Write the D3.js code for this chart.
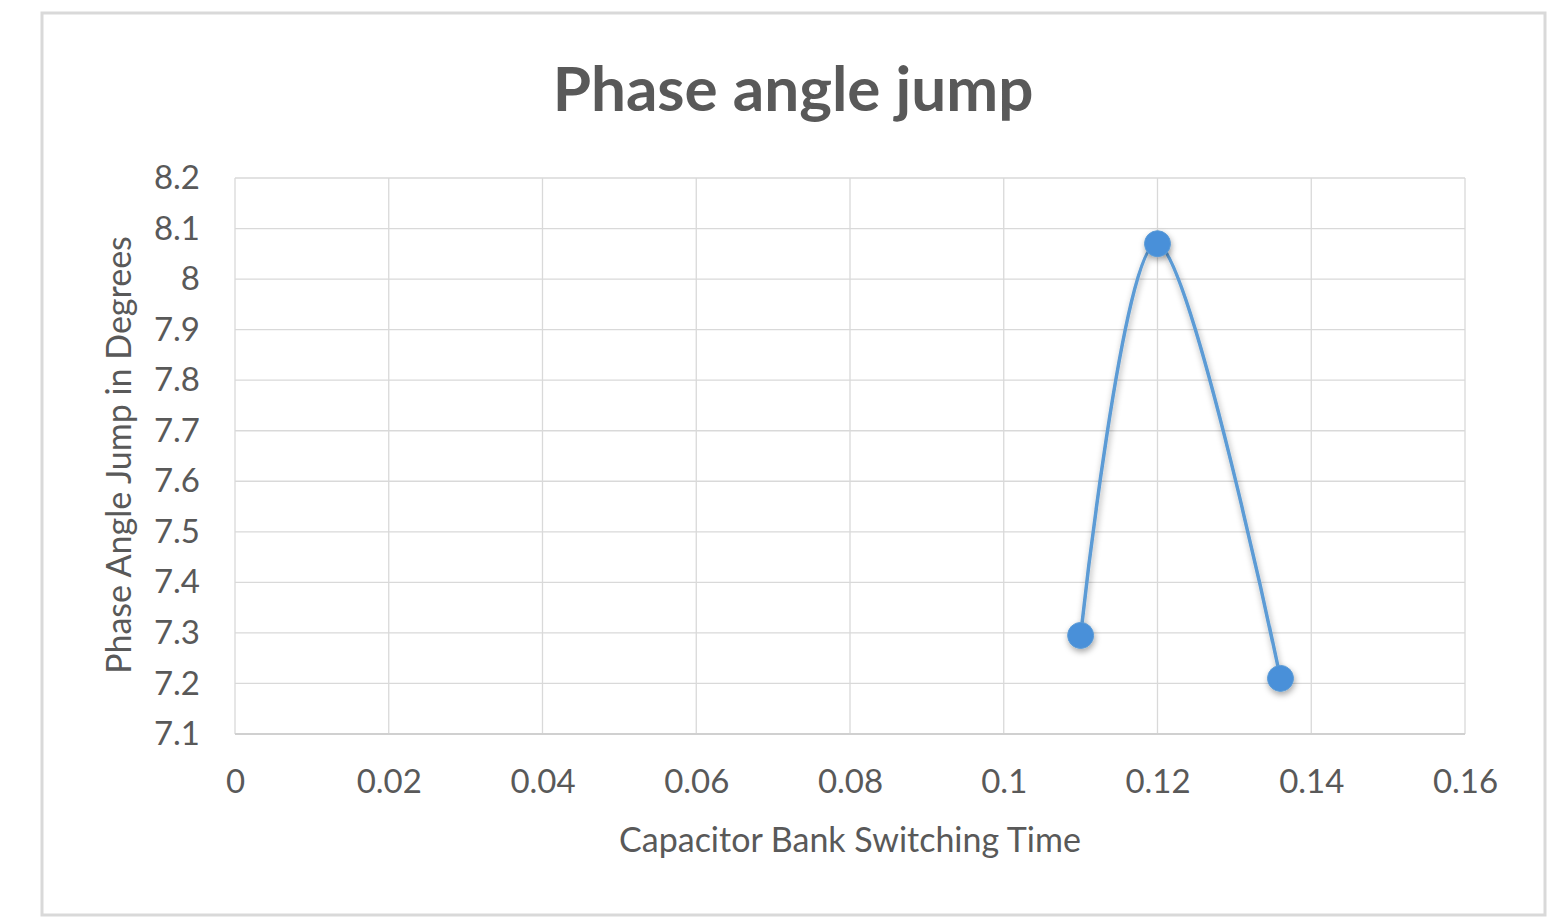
<!DOCTYPE html>
<html><head><meta charset="utf-8">
<script src="https://cdn.jsdelivr.net/npm/d3@7"></script>
<style>body{margin:0;background:#fff;}svg{display:block;}</style>
</head><body>
<svg id="c" width="1556" height="924"></svg>
<script>
const xValues = [0.11, 0.12, 0.136];
const yValues = [7.295, 8.07, 7.21];
const xTicks = [0, 0.02, 0.04, 0.06, 0.08, 0.1, 0.12, 0.14, 0.16];
const yTicks = [7.1, 7.2, 7.3, 7.4, 7.5, 7.6, 7.7, 7.8, 7.9, 8, 8.1, 8.2];
const title = "Phase angle jump";
const xTitle = "Capacitor Bank Switching Time";
const yTitle = "Phase Angle Jump in Degrees";

const svg = d3.select("#c");
const font = "Lato, 'Open Sans', sans-serif";
const grey = "#595959";

svg.append("rect").attr("x",42).attr("y",13).attr("width",1503).attr("height",902)
  .attr("fill","#fff").attr("stroke","#d9d9d9").attr("stroke-width",3);

const L=235,R=1465,T=178,B=734;
const x = d3.scaleLinear().domain([0,0.16]).range([L,R]);
const y = d3.scaleLinear().domain([7.1,8.2]).range([B,T]);

const g = svg.append("g");
g.selectAll(".gx").data(xTicks).join("line")
  .attr("x1",d=>x(d)).attr("x2",d=>x(d)).attr("y1",T).attr("y2",B)
  .attr("stroke","#d9d9d9").attr("stroke-width",1.3);
g.selectAll(".gy").data(yTicks).join("line")
  .attr("x1",L).attr("x2",R).attr("y1",d=>y(d)).attr("y2",d=>y(d))
  .attr("stroke","#d9d9d9").attr("stroke-width",1.3);
g.append("line").attr("x1",L).attr("x2",R).attr("y1",B).attr("y2",B).attr("stroke","#d0d0d0").attr("stroke-width",2);

const xAxis = svg.append("g").attr("transform",`translate(0,${B})`)
  .call(d3.axisBottom(x).tickValues(xTicks).tickSize(0).tickPadding(36).tickFormat(d=>String(d)));
xAxis.select(".domain").remove();
xAxis.selectAll("text").attr("font-family",font).attr("font-size",33).attr("fill",grey).attr("dy","0.71em");

const yAxis = svg.append("g").attr("transform",`translate(${L},0)`)
  .call(d3.axisLeft(y).tickValues(yTicks).tickSize(0).tickPadding(35).tickFormat(d=>String(d)));
yAxis.select(".domain").remove();
yAxis.selectAll("text").attr("font-family",font).attr("font-size",33).attr("fill",grey);

svg.append("text").attr("x",793).attr("y",111).attr("text-anchor","middle")
  .attr("font-family",font).attr("font-weight","bold").attr("font-size",62).attr("fill",grey).text(title);
svg.append("text").attr("x",850).attr("y",852).attr("text-anchor","middle")
  .attr("font-family",font).attr("font-size",34).attr("fill",grey).text(xTitle);
svg.append("text").attr("transform","translate(131,455) rotate(-90)").attr("text-anchor","middle")
  .attr("font-family",font).attr("font-size",34).attr("fill",grey).text(yTitle);

const defs = svg.append("defs");
const f = defs.append("filter").attr("id","sh").attr("x","-50%").attr("y","-50%").attr("width","200%").attr("height","200%");
f.append("feDropShadow").attr("dx",1).attr("dy",3).attr("stdDeviation",3).attr("flood-color","#000").attr("flood-opacity",0.35);

const data = xValues.map((v,i)=>({x:v,y:yValues[i]}));
const line = d3.line().x(d=>x(d.x)).y(d=>y(d.y)).curve(d3.curveCardinal.tension(0));
svg.append("path").datum(data).attr("d",line).attr("fill","none")
  .attr("stroke","#5b9bd5").attr("stroke-width",3.5).attr("filter","url(#sh)");
svg.selectAll(".pt").data(data).join("circle")
  .attr("cx",d=>x(d.x)).attr("cy",d=>y(d.y)).attr("r",13)
  .attr("fill","#4a90d9").attr("stroke","#5b9bd5").attr("stroke-width",1).attr("filter","url(#sh)");
</script>
</body></html>
